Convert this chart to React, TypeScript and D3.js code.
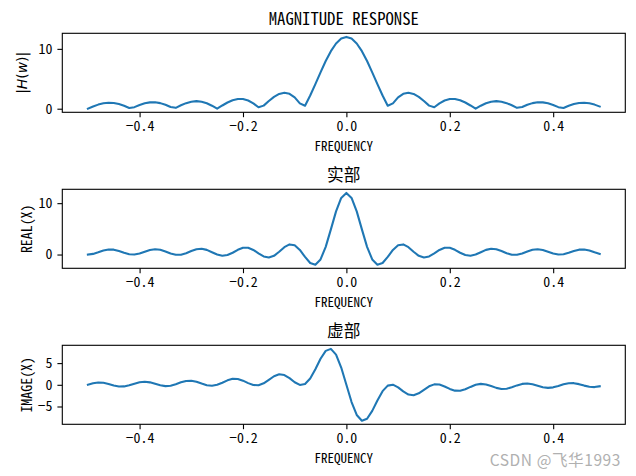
import React, { useEffect, useRef } from 'react';
import * as d3 from 'd3';

// sample frequencies, -0.5 .. 0.49
const freq = [
  -0.5, -0.49, -0.48, -0.47, -0.46, -0.45, -0.44, -0.43, -0.42, -0.41,
  -0.4, -0.39, -0.38, -0.37, -0.36, -0.35, -0.34, -0.33, -0.32, -0.31,
  -0.3, -0.29, -0.28, -0.27, -0.26, -0.25, -0.24, -0.23, -0.22, -0.21,
  -0.2, -0.19, -0.18, -0.17, -0.16, -0.15, -0.14, -0.13, -0.12, -0.11,
  -0.1, -0.09, -0.08, -0.07, -0.06, -0.05, -0.04, -0.03, -0.02, -0.01,
  0, 0.01, 0.02, 0.03, 0.04, 0.05, 0.06, 0.07, 0.08, 0.09,
  0.1, 0.11, 0.12, 0.13, 0.14, 0.15, 0.16, 0.17, 0.18, 0.19,
  0.2, 0.21, 0.22, 0.23, 0.24, 0.25, 0.26, 0.27, 0.28, 0.29,
  0.3, 0.31, 0.32, 0.33, 0.34, 0.35, 0.36, 0.37, 0.38, 0.39,
  0.4, 0.41, 0.42, 0.43, 0.44, 0.45, 0.46, 0.47, 0.48, 0.49,
];

const magnitude = [
  0, 0.368, 0.686, 0.909, 1.006, 0.963, 0.784, 0.494, 0.129, 0.259,
  0.618, 0.897, 1.056, 1.07, 0.933, 0.66, 0.284, 0.146, 0.571, 0.932,
  1.176, 1.263, 1.174, 0.913, 0.505, 0, 0.538, 1.035, 1.42, 1.628,
  1.618, 1.371, 0.899, 0.246, 0.516, 1.295, 1.983, 2.473, 2.668, 2.493,
  1.902, 0.891, 0.504, 2.208, 4.112, 6.08, 7.963, 9.615, 10.902, 11.72,
  12, 11.72, 10.902, 9.615, 7.963, 6.08, 4.112, 2.208, 0.504, 0.891,
  1.902, 2.493, 2.668, 2.473, 1.983, 1.295, 0.516, 0.246, 0.899, 1.371,
  1.618, 1.628, 1.42, 1.035, 0.538, 0, 0.505, 0.913, 1.174, 1.263,
  1.176, 0.932, 0.571, 0.146, 0.284, 0.66, 0.933, 1.07, 1.056, 0.897,
  0.618, 0.259, 0.129, 0.494, 0.784, 0.963, 1.006, 0.909, 0.686, 0.368,
];

const realPart = [
  0, 0.125, 0.437, 0.782, 0.988, 0.951, 0.687, 0.327, 0.047, -0.008,
  0.191, 0.55, 0.892, 1.044, 0.926, 0.588, 0.194, -0.058, -0.036, 0.26,
  0.691, 1.045, 1.137, 0.909, 0.457, 0, -0.229, -0.097, 0.353, 0.915,
  1.309, 1.317, 0.897, 0.226, -0.376, -0.588, -0.249, 0.539, 1.43, 1.97,
  1.809, 0.891, -0.469, -1.656, -1.981, -0.951, 1.492, 4.894, 8.4, 11.027,
  12, 11.027, 8.4, 4.894, 1.492, -0.951, -1.981, -1.656, -0.469, 0.891,
  1.809, 1.97, 1.43, 0.539, -0.249, -0.588, -0.376, 0.226, 0.897, 1.317,
  1.309, 0.915, 0.353, -0.097, -0.229, 0, 0.457, 0.909, 1.137, 1.045,
  0.691, 0.26, -0.036, -0.058, 0.194, 0.588, 0.926, 1.044, 0.892, 0.55,
  0.191, -0.008, 0.047, 0.327, 0.687, 0.951, 0.988, 0.782, 0.437, 0.125,
];

const imagPart = [
  0, 0.346, 0.529, 0.463, 0.189, -0.151, -0.378, -0.371, -0.12, 0.259,
  0.588, 0.709, 0.566, 0.233, -0.117, -0.3, -0.207, 0.134, 0.57, 0.895,
  0.951, 0.71, 0.292, -0.086, -0.215, 0, 0.487, 1.03, 1.375, 1.347,
  0.951, 0.383, -0.056, -0.098, 0.353, 1.154, 1.967, 2.413, 2.253, 1.528,
  0.588, -0.028, 0.186, 1.46, 3.603, 6.005, 7.822, 8.276, 6.949, 3.97,
  0, -3.97, -6.949, -8.276, -7.822, -6.005, -3.603, -1.46, -0.186, 0.028,
  -0.588, -1.528, -2.253, -2.413, -1.967, -1.154, -0.353, 0.098, 0.056, -0.383,
  -0.951, -1.347, -1.375, -1.03, -0.487, 0, 0.215, 0.086, -0.292, -0.71,
  -0.951, -0.895, -0.57, -0.134, 0.207, 0.3, 0.117, -0.233, -0.566, -0.709,
  -0.588, -0.259, 0.12, 0.371, 0.378, 0.151, -0.189, -0.463, -0.529, -0.346,
];

const xTicks = [-0.4, -0.2, 0, 0.2, 0.4];
const titles = ['MAGNITUDE RESPONSE', '实部', '虚部'];
const yLabels = ['|H(w)|', 'REAL(X)', 'IMAGE(X)'];
const yTickSets = [[0, 10], [0, 10], [-5, 0, 5]];

const FONT = "'Noto Sans Mono CJK SC', 'Noto Sans CJK SC', sans-serif";

const App = () => {
  const svgRef = useRef(null);

  useEffect(() => {
    const svg = d3.select(svgRef.current);
    svg.selectAll('*').remove();

    const left = 62.3;
    const right = 625.3;
    const ph = 79;
    const tops = [33.3, 189.3, 345.3];
    const labelX = [21.7, 26.7, 27.5];
    const series = [magnitude, realPart, imagPart];

    // matplotlib-like 5% margins
    const pad = (ext) => {
      const s = ext[1] - ext[0];
      return [ext[0] - s * 0.05, ext[1] + s * 0.05];
    };

    const x = d3.scaleLinear().domain(pad(d3.extent(freq))).range([left, right]);
    const cx = (left + right) / 2;

    series.forEach((values, k) => {
      const top = tops[k];
      const bottom = top + ph;
      const y = d3.scaleLinear().domain(pad(d3.extent(values))).range([bottom, top]);
      const g = svg.append('g');

      // the curve
      const line = d3
        .line()
        .x((_, i) => x(freq[i]))
        .y((d) => y(d));
      g.append('path')
        .datum(values)
        .attr('d', line)
        .attr('fill', 'none')
        .attr('stroke', '#1f77b4')
        .attr('stroke-width', 2.08)
        .attr('stroke-linejoin', 'round')
        .attr('stroke-linecap', 'square');

      // x axis
      const xa = g
        .append('g')
        .attr('transform', `translate(0,${bottom})`)
        .call(
          d3.axisBottom(x).tickValues(xTicks).tickFormat(d3.format('.1f'))
            .tickSize(4.9).tickPadding(4.2).tickSizeOuter(0)
        );
      xa.select('.domain').remove();

      // y axis
      const ya = g
        .append('g')
        .attr('transform', `translate(${left},0)`)
        .call(
          d3.axisLeft(y).tickValues(yTickSets[k]).tickFormat(d3.format('d'))
            .tickSize(4.9).tickPadding(4.9).tickSizeOuter(0)
        );
      ya.select('.domain').remove();

      [xa, ya].forEach((a) => {
        a.attr('font-family', FONT).attr('font-size', 13.9);
        a.selectAll('line').attr('stroke', '#000').attr('stroke-width', 1.1);
        a.selectAll('text').attr('fill', '#000');
      });

      // frame
      g.append('rect')
        .attr('x', left)
        .attr('y', top)
        .attr('width', right - left)
        .attr('height', ph)
        .attr('fill', 'none')
        .attr('stroke', '#000')
        .attr('stroke-width', 1.1);

      // title
      g.append('text')
        .attr('x', cx)
        .attr('y', top - 8.3)
        .attr('text-anchor', 'middle')
        .attr('font-family', FONT)
        .attr('font-size', 16.7)
        .text(titles[k]);

      // x label
      g.append('text')
        .attr('x', cx)
        .attr('y', bottom + 38.3)
        .attr('text-anchor', 'middle')
        .attr('font-family', FONT)
        .attr('font-size', 13)
        .text('FREQUENCY');

      // y label
      const yl = g
        .append('text')
        .attr('transform', `translate(${labelX[k]},${top + ph / 2}) rotate(-90)`)
        .attr('text-anchor', 'middle')
        .attr('dy', '0.35em')
        .attr('font-size', 13.9);
      if (k === 0) {
        yl.attr('font-family', "'DejaVu Sans', sans-serif");
        [['|', 'normal'], ['H', 'italic'], ['(', 'normal'], ['w', 'italic'], [')', 'normal'], ['|', 'normal']]
          .forEach(([t, s]) => yl.append('tspan').attr('font-style', s).text(t));
      } else {
        yl.attr('font-family', FONT).text(yLabels[k]);
      }
    });

    // watermark
    svg.append('text')
      .attr('x', 621)
      .attr('y', 465.5)
      .attr('text-anchor', 'end')
      .attr('font-family', "'Noto Sans CJK SC', sans-serif")
      .attr('font-size', 15.5)
      .attr('letter-spacing', 0.6)
      .attr('fill', '#b0b0b0')
      .text('CSDN @飞华1993');
  }, []);

  return (
    <svg
      ref={svgRef}
      width={636}
      height={476}
      style={{ position: 'absolute', left: 0, top: 0, background: '#fff' }}
    ></svg>
  );
};

export default App;
